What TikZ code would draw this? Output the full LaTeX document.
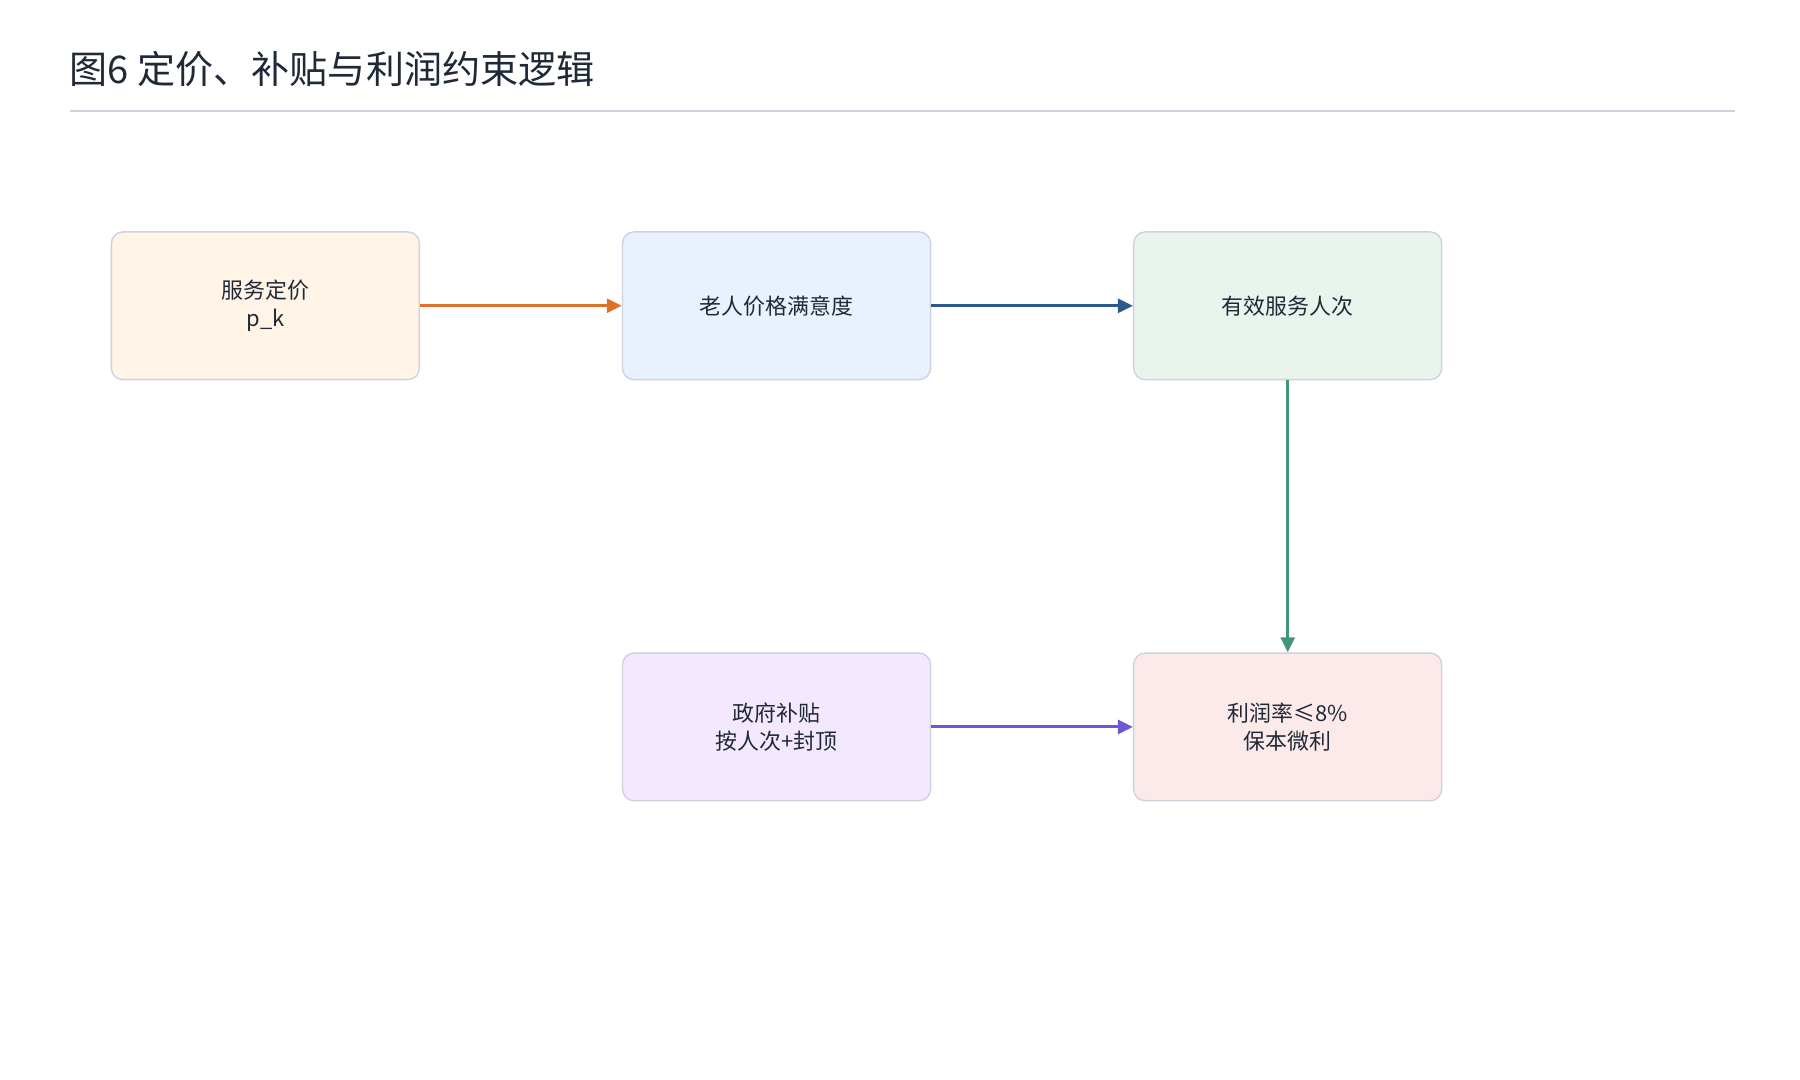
\documentclass[tikz,border=0pt]{standalone}
\usepackage{fontspec}
\setmainfont{Noto Sans CJK SC}
\usetikzlibrary{arrows.meta, positioning}

\definecolor{frameC}{HTML}{CDD3DE}
\definecolor{inkC}{HTML}{1F2937}

\begin{document}
\begin{tikzpicture}[
    x=1pt, y=-1pt,
    box/.style={draw=frameC, line width=1.2pt, rounded corners=10pt,
        minimum width=267pt, minimum height=128pt, align=center,
        font=\fontsize{19}{24}\selectfont, text=inkC},
    link/.style={line width=2.6pt, -{Triangle[length=13pt, width=12pt]}}]

    % canvas
    \useasboundingbox (0,0) rectangle (1560,936);

    % title
    \node[anchor=west, text=inkC, font=\fontsize{33}{38}\selectfont] (title) at (57,60) {图6 定价、补贴与利润约束逻辑};
    \draw[frameC, line width=2pt] (61,96) -- (1504,96);

    % boxes
    \node[box, fill={rgb,255:red,255;green,244;blue,230}] (price) at (230,265) {服务定价\\p\_k};
    \node[box, fill={rgb,255:red,232;green,242;blue,254}] (satis) at (673,265) {老人价格满意度};
    \node[box, fill={rgb,255:red,232;green,244;blue,236}] (visits) at (1116,265) {有效服务人次};
    \node[box, fill={rgb,255:red,244;green,232;blue,254}] (subsidy) at (673,630) {政府补贴\\按人次+封顶};
    \node[box, fill={rgb,255:red,252;green,233;blue,233}] (profit) at (1116,630) {利润率≤8\%\\保本微利};

    % connectors
    \draw[link, color={rgb,255:red,221;green,114;blue,40}] (price) -- (satis);
    \draw[link, color={rgb,255:red,44;green,90;blue,140}] (satis) -- (visits);
    \draw[link, color={rgb,255:red,66;green,150;blue,120}] (visits) -- (profit);
    \draw[link, color={rgb,255:red,108;green,88;blue,210}] (subsidy) -- (profit);

\end{tikzpicture}
\end{document}
